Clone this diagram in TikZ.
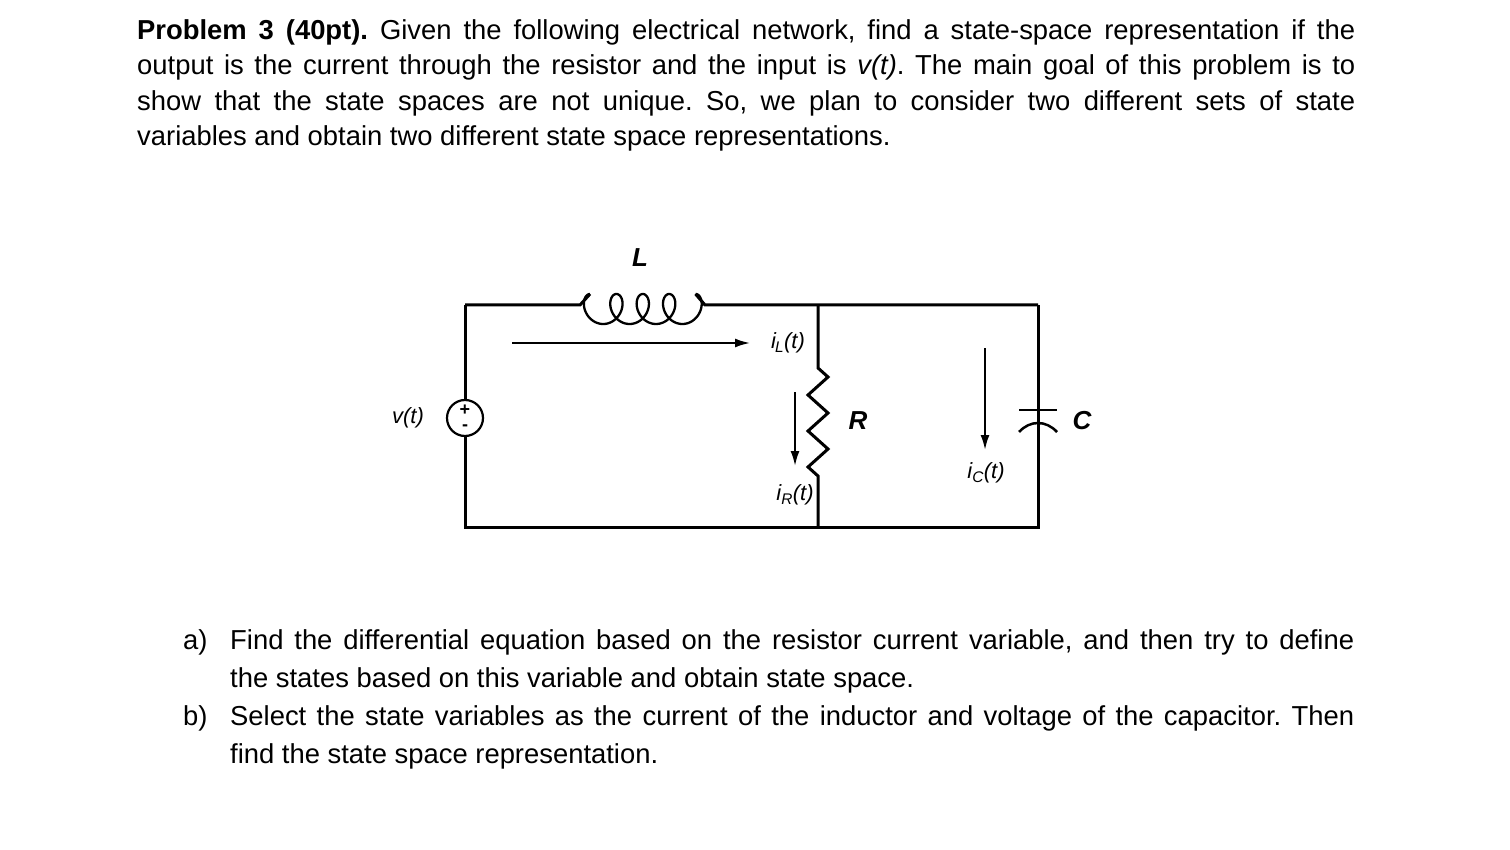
\documentclass[tikz,border=0pt]{standalone}
\usepackage{fontspec}
\setmainfont{Liberation Sans}
\usetikzlibrary{arrows.meta}
\newcommand{\jline}[1]{\makebox[1218pt][s]{#1}}
\begin{document}
\begin{tikzpicture}[x=1pt,y=-1pt,
  wire/.style={line width=3pt},
  curr/.style={line width=2pt,-{Latex[length=15pt,width=9pt]}},
  lbl/.style={font=\fontsize{26}{28}\selectfont\itshape\bfseries},
  sml/.style={font=\fontsize{22}{24}\selectfont\itshape}]
\useasboundingbox (0,0) rectangle (1510,850);
\node[anchor=north west,inner sep=0,align=left,font=\fontsize{27.4}{35.5}\selectfont\frenchspacing] (txt) at (137,19)
{\jline{\textbf{Problem 3 (40pt).} Given the following electrical network, find a state-space representation if the}\\
\jline{output is the current through the resistor and the input is \textit{v(t)}. The main goal of this problem is to}\\
\jline{show that the state spaces are not unique. So, we plan to consider two different sets of state}\\
variables and obtain two different state space representations.};
\node[anchor=north west,inner sep=0,align=left,font=\fontsize{27.4}{38}\selectfont\frenchspacing] (qa) at (183,629)
{\makebox[47pt][l]{a)}\makebox[1124pt][s]{Find the differential equation based on the resistor current variable, and then try to define}\\
\hspace*{47pt}the states based on this variable and obtain state space.\\
\makebox[47pt][l]{b)}\makebox[1124pt][s]{Select the state variables as the current of the inductor and voltage of the capacitor. Then}\\
\hspace*{47pt}find the state space representation.};
% nodes
\coordinate (tl) at (465,305);
\coordinate (bl) at (465,527);
\coordinate (rt) at (818,305);
\coordinate (rb) at (818,527);
\coordinate (tr) at (1038,305);
\coordinate (br) at (1038,527);
\node[draw,circle,line width=2.2pt,minimum size=36pt,inner sep=0] (src) at (465,418) {};
\node[font=\fontsize{18}{18}\selectfont\bfseries] (pl) at (465,410) {+};
\node[font=\fontsize{18}{18}\selectfont\bfseries] (mi) at (465,428) {-};
\draw[wire] (tl) -- (src.north);
\draw[wire] (src.south) -- (bl) -- (br) -- (tr);
\draw[wire] (tl) -- (580,305) -- (590,294);
\draw[line width=2.3pt] plot[domain=0:25.13,samples=300,variable=\t] ({590+4.2*\t-12*sin(\t r)},{309-15*cos(\t r)});
\draw[wire] (695.5,294) -- (705,305) -- (tr);
% resistor
\draw[wire] (rt) -- (818,368) -- (828,377) -- (808,395) -- (828,413) -- (808,431) -- (828,449) -- (808,467) -- (818,476) -- (rb);
% capacitor
\draw[wire] (tr) -- (1038,410) (1038,425) -- (br);
\draw[line width=2.5pt] (1019,410) -- (1057,410);
\draw[line width=2.5pt] (1019,432) .. controls (1030,420) and (1046,420) .. (1057,432);
% currents
\draw[curr] (512,343) -- (750,343);
\draw[curr] (795,392) -- (795,466);
\draw[curr] (985,348) -- (985,450);
\node[sml] (iL) at (788,343) {i\textsubscript{\kern-1pt L}(t)};
\node[sml] (iR) at (795,495) {i\textsubscript{R}(t)};
\node[sml] (iC) at (986,473) {i\textsubscript{C}(t)};
\node[lbl] (L) at (640,258) {L};
\node[lbl] (R) at (858,421) {R};
\node[lbl] (C) at (1082,421) {C};
\node[sml] (v) at (408,418) {v(t)};
\end{tikzpicture}
\end{document}
